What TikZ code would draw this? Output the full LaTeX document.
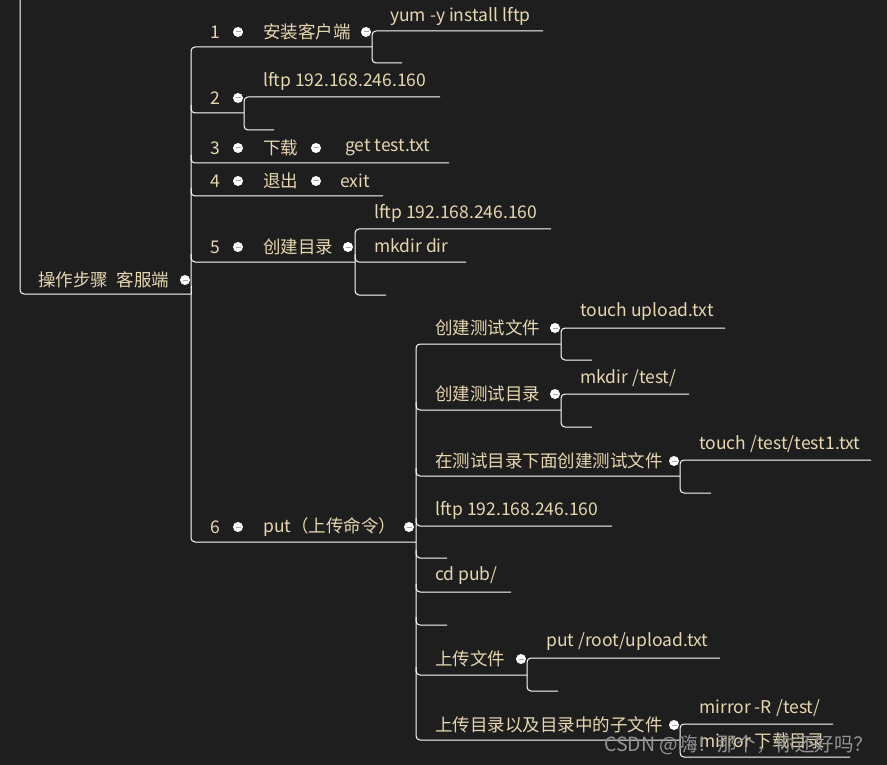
\documentclass[tikz,border=0pt]{standalone}
\usepackage{fontspec}
\setmainfont{Noto Sans CJK SC}
\begin{document}
\begin{tikzpicture}[x=1pt,y=-1pt,
  txt/.style={text=tcol,font=\fontsize{17.5}{20}\selectfont,inner sep=0pt,anchor=west},
  ln/.style={draw=white,line width=1pt,rounded corners=4pt},
  wm/.style={text=gray!85,font=\fontsize{19.5}{22}\selectfont,inner sep=0pt,anchor=west}]
\definecolor{bgc}{HTML}{1E1E1F}
\definecolor{tcol}{HTML}{E6D7AE}
\fill[bgc] (0,0) rectangle (887,765);
\useasboundingbox (0,0) rectangle (887,765);
\newcommand{\mdot}[2]{\fill[white] (#1,#2) circle (5); \draw[gray!70,line width=1pt] (#1-2.5,#2)--(#1+2.5,#2);}
% root
\node[txt] (root) at (38,280) {操作步骤\enspace 客服端}; \mdot{185}{280}
\path[ln] (20,0)--(20,294)--(191,294);
% trunk
\path[ln] (372,47)--(191,47)--(191,542)--(416,542);
\foreach \yy/\xe in {113/244,163/449,196/383,262/355,294/191}{\path[ln] (191,\yy-8)--(191,\yy)--(\xe,\yy);}
% 1
\node[txt] (n1) at (210,32) {1}; \mdot{238}{32}
\node[txt] (a1) at (263,32) {安装客户端}; \mdot{366}{32}
\path[ln] (543,31)--(372,31)--(372,63)--(402,63);
\node[txt] (a1c) at (390,16) {yum -y install lftp};
% 2
\node[txt] (n2) at (210,98) {2}; \mdot{238}{98}
\path[ln] (440,97)--(244,97)--(244,130)--(274,130);
\node[txt] (a2c) at (263,81) {lftp 192.168.246.160};
% 3
\node[txt] (n3) at (210,148) {3}; \mdot{238}{148}
\node[txt] (a3) at (263,148) {下载}; \mdot{316}{148}
\node[txt] (a3c) at (345,148) {get test.txt};
% 4
\node[txt] (n4) at (210,181) {4}; \mdot{238}{181}
\node[txt] (a4) at (263,181) {退出}; \mdot{316}{181}
\node[txt] (a4c) at (340,181) {exit};
% 5
\node[txt] (n5) at (210,247) {5}; \mdot{238}{247}
\node[txt] (a5) at (263,247) {创建目录}; \mdot{348}{247}
\path[ln] (551,229)--(355,229)--(355,295)--(386,295);
\path[ln] (355,254)--(355,262)--(466,262);
\node[txt] (a5c1) at (374,213) {lftp 192.168.246.160};
\node[txt] (a5c2) at (374,246) {mkdir dir};
% 6
\node[txt] (n6) at (210,527) {6}; \mdot{238}{527}
\node[txt] (a6) at (263,527) {put（上传命令）}; \mdot{409}{527}
\path[ln] (561,344)--(416,344)--(416,740)--(680,740);
\foreach \yy/\xe in {410/561,476/680,526/612,558/447,592/511,625/447,675/527}{\path[ln] (416,\yy-8)--(416,\yy)--(\xe,\yy);}
\node[txt] (b1) at (435,328) {创建测试文件}; \mdot{555}{328}
\path[ln] (725,328)--(561,328)--(561,360)--(592,360);
\node[txt] (b1c) at (580,312) {touch upload.txt};
\node[txt] (b2) at (435,394) {创建测试目录}; \mdot{555}{394}
\path[ln] (689,394)--(561,394)--(561,427)--(592,427);
\node[txt] (b2c) at (580,378) {mkdir /test/};
\node[txt] (b3) at (435,461) {在测试目录下面创建测试文件}; \mdot{674}{461}
\path[ln] (871,460)--(680,460)--(680,493)--(711,493);
\node[txt] (b3c) at (699,444) {touch /test/test1.txt};
\node[txt] (b4) at (435,510) {lftp 192.168.246.160};
\node[txt] (b5) at (435,576) {cd pub/};
\node[txt] (b6) at (435,659) {上传文件}; \mdot{521}{659}
\path[ln] (720,658)--(527,658)--(527,691)--(558,691);
\node[txt] (b6c) at (546,642) {put /root/upload.txt};
\node[txt] (b7) at (435,725) {上传目录以及目录中的子文件}; \mdot{674}{725}
\path[ln] (833,724)--(680,724)--(680,757)--(850,757);
\node[txt] (b7c1) at (699,708) {mirror -R /test/};
\node[txt] (b7c2) at (699,741) {mirror 下载目录};
\node[wm] (wm) at (604,745) {CSDN @嗨！那个，你还好吗？};
\end{tikzpicture}
\end{document}
